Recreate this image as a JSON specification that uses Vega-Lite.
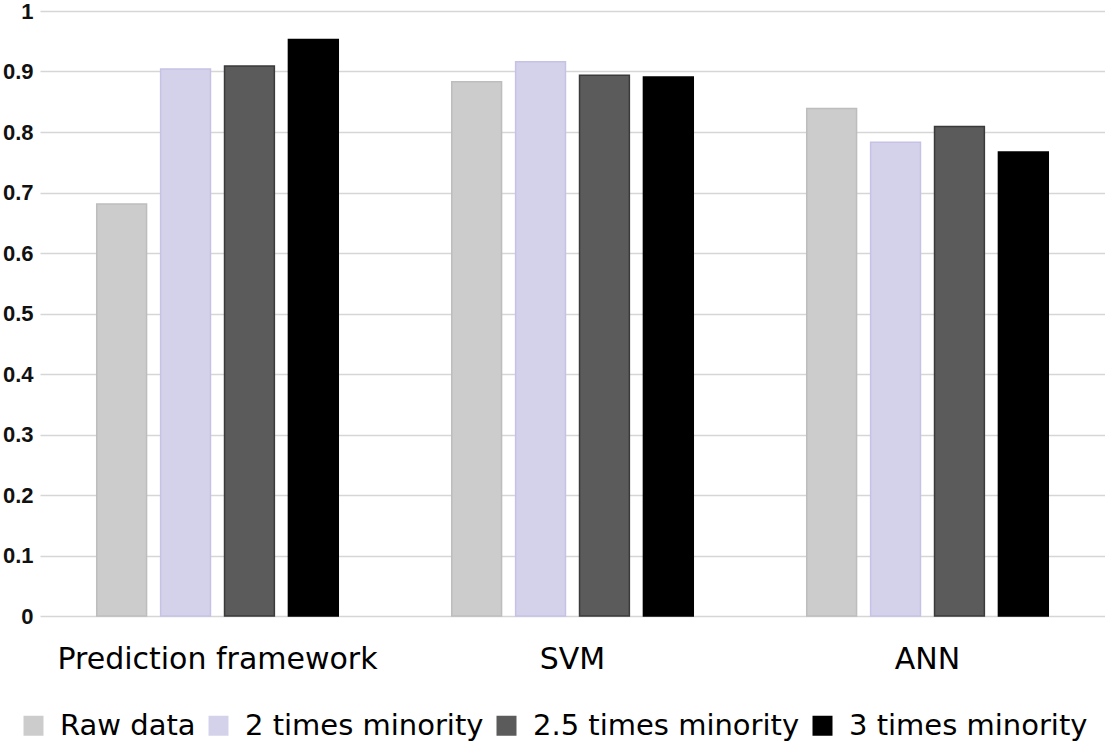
{
  "$schema": "https://vega.github.io/schema/vega-lite/v6.json",
  "width": 1065,
  "height": 605,
  "autosize": {"type": "none"},
  "padding": {"left": 40, "top": 11, "right": 0, "bottom": 130},
  "background": "white",
  "config": {
    "view": {"stroke": null},
    "font": "DejaVu Sans"
  },
  "data": {
    "values": [
      {"model": "Prediction framework", "series": "Raw data", "value": 0.681},
      {"model": "Prediction framework", "series": "2 times minority", "value": 0.904},
      {"model": "Prediction framework", "series": "2.5 times minority", "value": 0.909},
      {"model": "Prediction framework", "series": "3 times minority", "value": 0.953},
      {"model": "SVM", "series": "Raw data", "value": 0.883},
      {"model": "SVM", "series": "2 times minority", "value": 0.916},
      {"model": "SVM", "series": "2.5 times minority", "value": 0.894},
      {"model": "SVM", "series": "3 times minority", "value": 0.891},
      {"model": "ANN", "series": "Raw data", "value": 0.839},
      {"model": "ANN", "series": "2 times minority", "value": 0.783},
      {"model": "ANN", "series": "2.5 times minority", "value": 0.809},
      {"model": "ANN", "series": "3 times minority", "value": 0.767}
    ]
  },
  "mark": {"type": "bar", "strokeWidth": 1.5},
  "encoding": {
    "x": {
      "field": "model",
      "type": "nominal",
      "sort": ["Prediction framework", "SVM", "ANN"],
      "scale": {"paddingInner": 0.28, "paddingOuter": 0.14},
      "axis": {
        "title": null,
        "labelAngle": 0,
        "labelFontSize": 30,
        "labelColor": "#000",
        "labelLimit": 400,
        "labelPadding": 28,
        "ticks": false,
        "domain": false
      }
    },
    "xOffset": {
      "field": "series",
      "type": "nominal",
      "sort": ["Raw data", "2 times minority", "2.5 times minority", "3 times minority"],
      "scale": {"paddingInner": 0.22, "paddingOuter": 0.11}
    },
    "y": {
      "field": "value",
      "type": "quantitative",
      "scale": {"domain": [0, 1], "nice": false},
      "axis": {
        "title": null,
        "values": [0, 0.1, 0.2, 0.3, 0.4, 0.5, 0.6, 0.7, 0.8, 0.9, 1],
        "format": "~g",
        "labelFont": "Liberation Sans",
        "labelFontSize": 22,
        "labelFontWeight": "bold",
        "labelColor": "#111",
        "labelPadding": 7,
        "ticks": false,
        "domain": false,
        "gridColor": "#d6d6d6",
        "gridWidth": 1.5
      }
    },
    "color": {
      "field": "series",
      "type": "nominal",
      "scale": {
        "domain": ["Raw data", "2 times minority", "2.5 times minority", "3 times minority"],
        "range": ["#cccccc", "#d4d2ea", "#5b5b5b", "#000000"]
      },
      "legend": {
        "title": null,
        "orient": "none",
        "direction": "horizontal",
        "legendX": -21,
        "legendY": 700,
        "padding": 0,
        "symbolType": "square",
        "symbolSize": 400,
        "symbolStrokeWidth": 0,
        "labelFontSize": 29,
        "labelColor": "#000",
        "labelLimit": 400,
        "labelOffset": 12,
        "columnPadding": 8
      }
    },
    "stroke": {
      "field": "series",
      "type": "nominal",
      "scale": {
        "domain": ["Raw data", "2 times minority", "2.5 times minority", "3 times minority"],
        "range": ["#bdbdbd", "#c6c2e6", "#3a3a3a", "#000000"]
      },
      "legend": null
    }
  }
}
